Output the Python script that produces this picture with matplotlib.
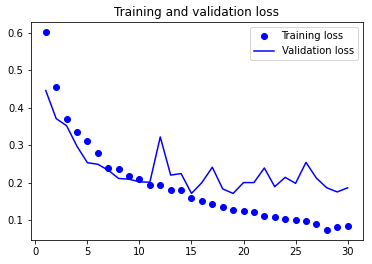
import matplotlib
matplotlib.use("Agg")
import matplotlib.pyplot as plt

epochs = list(range(1, 31))
loss = [0.602, 0.455, 0.370, 0.335, 0.311, 0.279, 0.238, 0.236, 0.217, 0.209,
        0.193, 0.193, 0.180, 0.180, 0.158, 0.152, 0.143, 0.136, 0.127, 0.124,
        0.121, 0.111, 0.108, 0.103, 0.100, 0.097, 0.089, 0.073, 0.081, 0.084]
val_loss = [0.446, 0.371, 0.352, 0.297, 0.253, 0.249, 0.233, 0.211, 0.209, 0.202,
            0.201, 0.322, 0.220, 0.224, 0.171, 0.200, 0.241, 0.183, 0.171, 0.200,
            0.200, 0.239, 0.189, 0.214, 0.198, 0.254, 0.212, 0.186, 0.175, 0.186]

fig = plt.figure(figsize=(372 / 72, 264 / 72), dpi=72)
ax = fig.add_axes([0.0825, 0.091, 0.8925, 0.8245])
ax.plot(epochs, loss, 'bo', label='Training loss')
ax.plot(epochs, val_loss, 'b', label='Validation loss')
ax.set_title('Training and validation loss')
ax.legend()
fig.savefig('out.png', dpi=72)
